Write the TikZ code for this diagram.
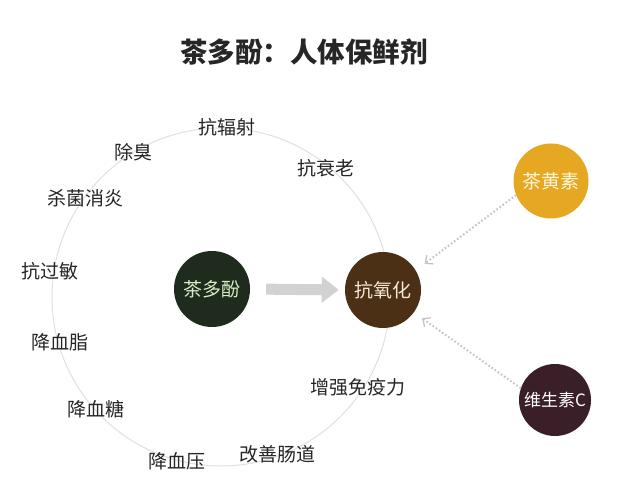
\documentclass[tikz,border=0pt]{standalone}
\usepackage{fontspec}
\setmainfont{Noto Sans CJK SC}
\usetikzlibrary{arrows.meta}
\definecolor{ringgray}{HTML}{E0E0E0}
\definecolor{labelgray}{HTML}{262626}
\definecolor{teagreen}{HTML}{1F2B1D}
\definecolor{teatext}{HTML}{D5ECC5}
\definecolor{oxbrown}{HTML}{4B3016}
\definecolor{oxtext}{HTML}{F5E8D8}
\definecolor{goldc}{HTML}{E6A823}
\definecolor{goldtext}{HTML}{FFF6DC}
\definecolor{plumc}{HTML}{3B1F28}
\definecolor{arrowgray}{HTML}{D2D2D2}
\definecolor{dotgray}{HTML}{C4C4C4}
\tikzset{
  lbl/.style={text=labelgray, font=\fontsize{19}{22}\selectfont, inner sep=0pt},
  ball/.style={circle, inner sep=0pt, font=\fontsize{19}{22}\selectfont},
  dotarrow/.style={draw=dotgray, line width=2pt, dash pattern=on 1.6pt off 2.2pt, -{Straight Barb[length=6pt,width=11pt,line width=1.3pt]}}
}
\begin{document}
\begin{tikzpicture}[x=1pt,y=-1pt]
\useasboundingbox[fill=white] (0,0) rectangle (624,489);
% title
\node[font=\fontsize{27.5}{30}\selectfont\bfseries, text=labelgray, inner sep=0pt] (title) at (304,52) {茶多酚：人体保鲜剂};
% ring
\draw[ringgray, line width=1pt] (221,297) circle[radius=169];
% labels
\node[lbl] (l1) at (227,127) {抗辐射};
\node[lbl] (l2) at (133,152) {除臭};
\node[lbl] (l3) at (85,198) {杀菌消炎};
\node[lbl] (l4) at (50,271) {抗过敏};
\node[lbl] (l5) at (60,342) {降血脂};
\node[lbl] (l6) at (96,409) {降血糖};
\node[lbl] (l7) at (177,461) {降血压};
\node[lbl] (l8) at (277,454) {改善肠道};
\node[lbl] (l9) at (358,387) {增强免疫力};
\node[lbl] (l10) at (326,168) {抗衰老};
% balls
\node[ball, fill=teagreen, text=teatext, minimum size=76pt] (tp) at (212,289) {茶多酚};
\node[ball, fill=oxbrown, text=oxtext, minimum size=76pt] (ox) at (383,290) {抗氧化};
\node[ball, fill=goldc, text=goldtext, minimum size=75pt] (tf) at (551,181) {茶黄素};
\node[ball, fill=plumc, text=white, minimum size=72pt, font=\fontsize{17}{20}\selectfont] (vc) at (555,400) {维生素C};
% main arrow
\draw[arrowgray, line width=11pt, shorten <=16pt, shorten >=6pt, -{Triangle[length=17pt,width=25pt]}] (tp.east) -- (ox.west);
% dotted arrows
\draw[dotarrow, shorten >=11pt] (tf.202) -- (ox.31);
\draw[dotarrow, shorten >=10pt] (vc.161) -- (ox.-36);
\end{tikzpicture}
\end{document}
